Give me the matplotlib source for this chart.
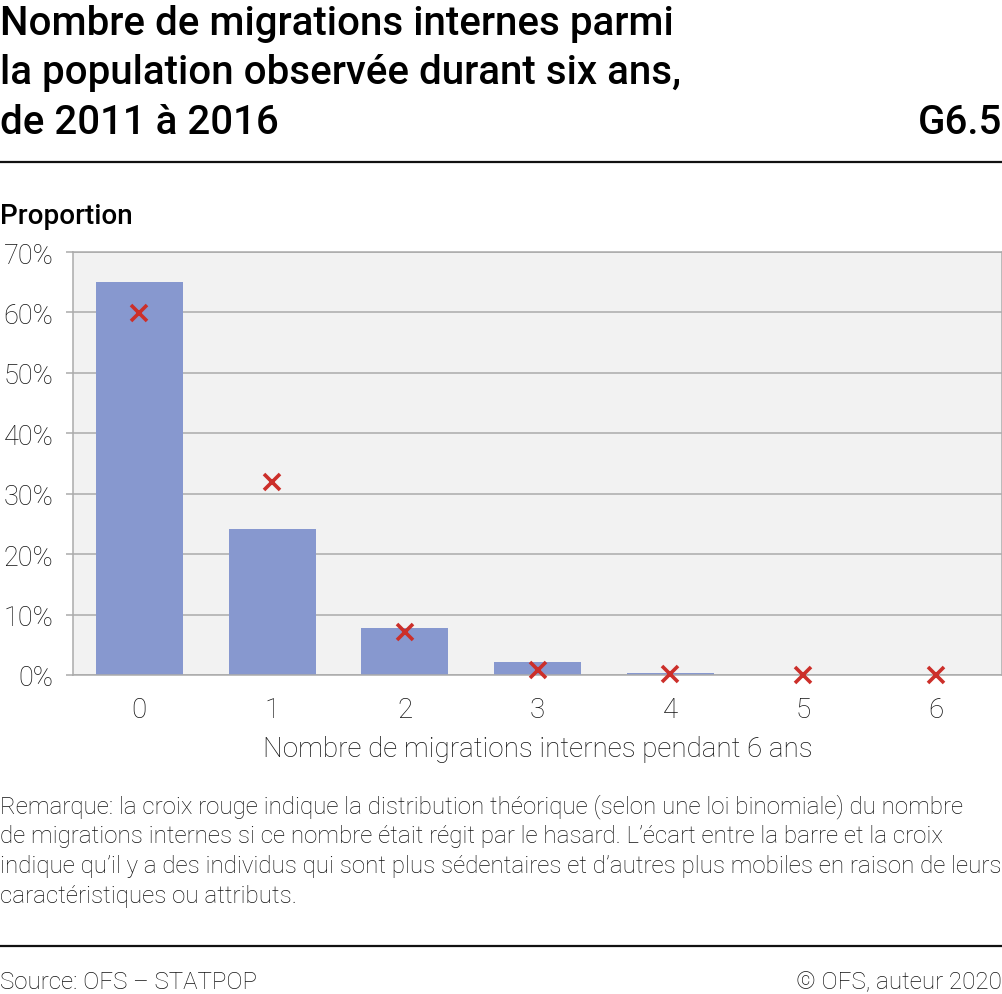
import matplotlib.pyplot as plt

# données
categories = [0, 1, 2, 3, 4, 5, 6]
observe = [65.1, 24.2, 7.8, 2.2, 0.4, 0.05, 0.0]
theorique = [59.9, 32.0, 7.1, 0.8, 0.1, 0.0, 0.0]
yticks = [0, 10, 20, 30, 40, 50, 60, 70]
ytick_labels = ['0%', '10%', '20%', '30%', '40%', '50%', '60%', '70%']

titre = ['Nombre de migrations internes parmi',
         'la population observée durant six ans,',
         'de 2011 à 2016']
remarque = ['Remarque: la croix rouge indique la distribution théorique (selon une loi binomiale) du nombre',
            'de migrations internes si ce nombre était régit par le hasard. L\u2019écart entre la barre et la croix',
            'indique qu\u2019il y a des individus qui sont plus sédentaires et d\u2019autres plus mobiles en raison de leurs',
            'caractéristiques ou attributs.']

W, H = 1003, 995
plt.rcParams['font.family'] = ['Roboto', 'DejaVu Sans']

fig = plt.figure(figsize=(W / 100, H / 100), dpi=100)

def fx(px):
    return px / W

def fy(py):
    return 1 - py / H

# zone du graphique
ax = fig.add_axes([fx(73), fy(676), fx(1002) - fx(73), fy(253) - fy(676)])
ax.set_facecolor('#f2f2f2')
gris = '#ababab'
texte = '#111111'

ax.bar(categories, observe, width=0.655, color='#8798cf', zorder=2)
ax.plot(categories, theorique, linestyle='none', marker='x', color='#cc2f2a',
        markersize=12, markeredgewidth=2.6, zorder=3, clip_on=False)

ax.set_xlim(-0.5, 6.5)
ax.set_ylim(0, 70)
ax.set_yticks(yticks)
ax.set_yticklabels(ytick_labels)
ax.set_xticks(categories)
ax.grid(axis='y', color=gris, linewidth=1.1, zorder=1)
ax.set_axisbelow(True)
for s in ax.spines.values():
    s.set_color(gris)
    s.set_linewidth(1.1)

ax.tick_params(axis='y', length=5, width=1.1, color=gris, pad=9,
               labelsize=19.5, labelcolor=texte)
ax.tick_params(axis='x', length=0, pad=15, labelsize=20, labelcolor=texte)
for lab in ax.get_xticklabels() + ax.get_yticklabels():
    lab.set_fontweight('light')
ax.set_xlabel('Nombre de migrations internes pendant 6 ans', fontsize=20,
              fontweight='light', labelpad=9, color=texte)

# titre
for i, ligne in enumerate(titre):
    fig.text(fx(0), fy(35 + 49.5 * i), ligne, fontsize=29, fontweight='medium',
             va='baseline', ha='left')
fig.text(fx(1002), fy(134), 'G6.5', fontsize=29, fontweight='medium',
         va='baseline', ha='right')

fig.add_artist(plt.Line2D([0, 1], [fy(162.5), fy(162.5)], color='#111111', linewidth=1.6))

fig.text(fx(0), fy(224), 'Proportion', fontsize=20, fontweight='medium',
         va='baseline', ha='left')

# remarque
for i, ligne in enumerate(remarque):
    fig.text(fx(0), fy(813 + 30 * i), ligne, fontsize=17.4, fontweight='light',
             va='baseline', ha='left', color=texte)

fig.add_artist(plt.Line2D([0, 1], [fy(947), fy(947)], color='#111111', linewidth=1.6))

fig.text(fx(0), fy(989), 'Source: OFS \u2013 STATPOP', fontsize=17.4, fontweight='light',
         va='baseline', ha='left', color=texte)
fig.text(fx(1002), fy(989), '© OFS, auteur 2020', fontsize=17.4, fontweight='light',
         va='baseline', ha='right', color=texte)

fig.savefig('out.png', dpi=100)
